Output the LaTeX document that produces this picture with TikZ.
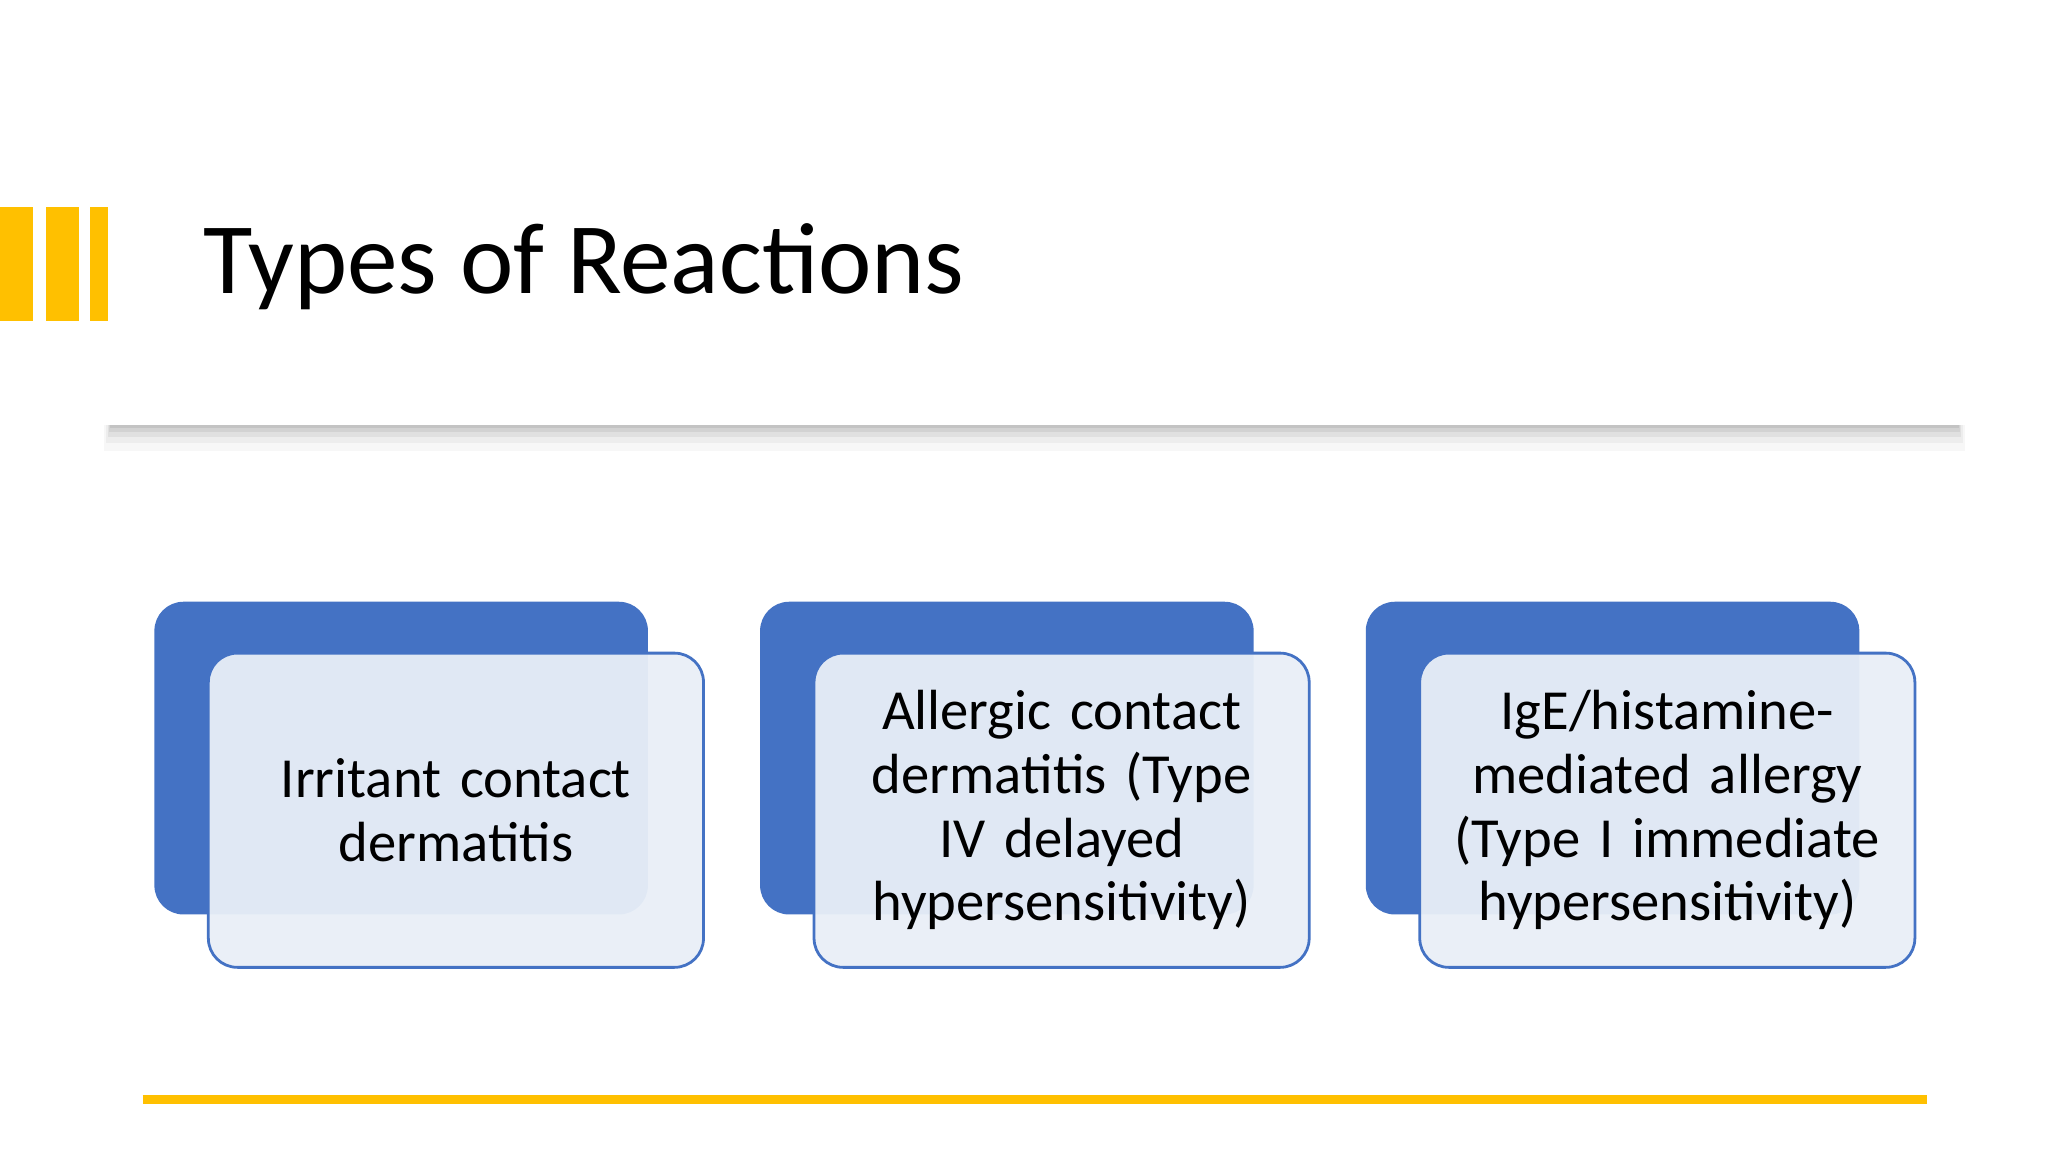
\documentclass[tikz,border=0pt]{standalone}
\usepackage{fontspec}
\setmainfont{Carlito}
\definecolor{yel}{HTML}{FFC000}
\definecolor{blu}{HTML}{4472C4}
\definecolor{lite}{HTML}{E9EFF7}
\tikzset{
 backbox/.style={fill=blu,rounded corners=0.22cm},
 frontbox/.style={fill=lite,fill opacity=0.95,draw=blu,line width=0.6pt,rounded corners=0.22cm,text opacity=1,
   minimum width=3.75cm,minimum height=2.38cm,text width=3.6cm,align=center,font=\fontsize{12.2}{13.7}\selectfont,inner sep=0pt},
}
\begin{document}
\begin{tikzpicture}[x={(0.01cm,0)},y={(0,-0.01cm)}]
\useasboundingbox (0,0) rectangle (1552,873);
\fill[white] (0,0) rectangle (1552,873);
\foreach \i/\o in {20/0.03,14/0.04,9/0.05,5/0.06,2/0.07}{
  \fill[black,opacity=\o] (84-\i/4,322) rectangle (1484+\i/4,322+\i);
}
\node[fill=white,minimum width=14.04cm,minimum height=2.34cm,inner sep=0pt] (title) at (784,205) {};
\node[anchor=west,font=\fontsize{21.8}{26}\selectfont] (ttext) at (142,202) {Types of Reactions};
\fill[yel] (0,157) rectangle (25,243);
\fill[yel] (35,157) rectangle (60,243);
\fill[yel] (68,157) rectangle (82,243);
\draw[yel,line width=2pt] (108,833) coordinate (l1) -- (1460,833) coordinate (l2);
\foreach \dx/\nm/\txt in {0/a/{Irritant contact\\dermatitis},459/b/{Allergic contact\\dermatitis (Type\\IV delayed\\hypersensitivity)},918/c/{IgE/histamine-\\mediated allergy\\(Type I immediate\\hypersensitivity)}}{
  \fill[backbox] (117+\dx,456) rectangle (491+\dx,693);
  \node[frontbox] (\nm) at (345.5+\dx,614) {\txt};
}
\end{tikzpicture}
\end{document}
